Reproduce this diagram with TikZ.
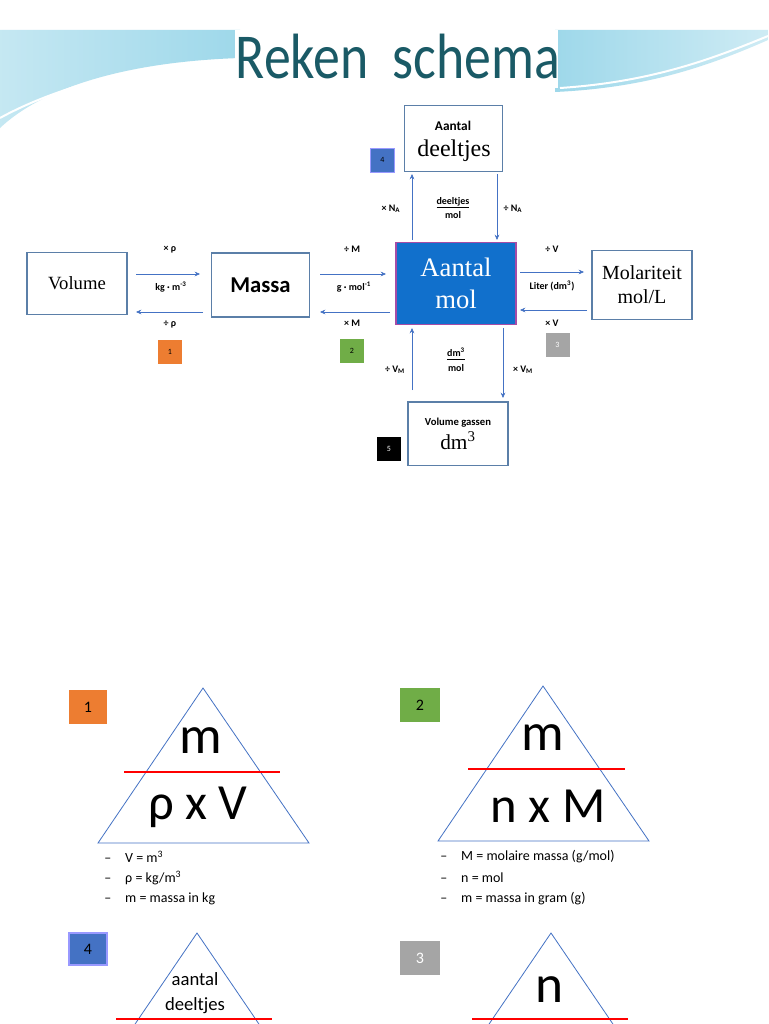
\documentclass[tikz,border=0pt]{standalone}
\usepackage{fontspec}
\setmainfont{Liberation Serif}
\newfontfamily\carl{Carlito}
\usetikzlibrary{arrows.meta}
\definecolor{arrblue}{HTML}{4472C4}
\definecolor{molblue}{HTML}{1170CC}
\definecolor{teal1}{HTML}{1F6A78}
\definecolor{bOrange}{HTML}{ED7D31}
\definecolor{bGreen}{HTML}{70AD47}
\definecolor{bGray}{HTML}{A5A5A5}
\definecolor{bBlue}{HTML}{4472C4}
\definecolor{boxline}{HTML}{5B7FA8}
\definecolor{swoosh}{HTML}{9ED8EA}
\tikzset{
  box/.style={draw=boxline,line width=0.8pt,fill=white,inner sep=0pt,align=center},
  arr/.style={draw=arrblue,line width=0.5pt,-{Stealth[length=4pt,width=3.5pt]}},
  lab/.style={font=\carl\bfseries\fontsize{7.5}{9}\selectfont,inner sep=0pt,align=center},
  badge/.style={inner sep=0pt,font=\carl\fontsize{6}{7}\selectfont},
  bigbadge/.style={inner sep=0pt,font=\carl\fontsize{12}{14}\selectfont},
  tri/.style={draw=arrblue,line width=0.6pt},
  redl/.style={draw=red,line width=2.2pt},
  lst/.style={font=\carl\fontsize{10.5}{13}\selectfont,anchor=west,inner sep=0pt},
}
\begin{document}
\begin{tikzpicture}[x=0.75pt,y=-0.75pt]
\useasboundingbox (0,0) rectangle (768,1024);
\fill[white] (0,0) rectangle (768,1024);
% banner
\shade[left color=swoosh!60,right color=swoosh] (0,30) -- (240,30) -- (240,58) .. controls (120,62) and (40,90) .. (0,128) -- cycle;
\draw[white,line width=1.5pt] (0,118) .. controls (60,85) and (150,62) .. (240,60);
\shade[left color=swoosh,right color=swoosh!50] (555,30) -- (768,30) -- (768,40) .. controls (700,70) and (640,88) .. (555,92) -- cycle;
\draw[white,line width=1.5pt] (560,88) .. controls (650,82) and (710,60) .. (768,36);
\fill[white] (235,30) rectangle (558,88);
\node[inner sep=0pt,text=teal1!85!black,font=\carl\fontsize{48}{50}\selectfont] (title) at (398,57) {\scalebox{0.84}[1]{Reken\ \ schema}};
% boxes
\node[box,minimum width=74pt,minimum height=50pt] (deel) at (453.5,138.5) {};
\node[inner sep=0pt,font=\carl\bfseries\fontsize{10}{12}\selectfont] (deelA) at (453,126) {Aantal};
\node[inner sep=0pt,font=\fontsize{18}{20}\selectfont] (deelB) at (454,151) {deeltjes};
\node[box,draw=violet!70,fill=molblue,minimum width=90pt,minimum height=62pt,text=white,font=\fontsize{20}{24}\selectfont] (mol) at (456,283.5) {Aantal\\mol};
\node[box,minimum width=75pt,minimum height=47pt,font=\fontsize{14}{16}\selectfont] (vol) at (77,283.5) {Volume};
\node[box,minimum width=74pt,minimum height=48pt,font=\carl\bfseries\fontsize{17}{20}\selectfont] (mas) at (260.5,285) {Massa};
\node[box,minimum width=75pt,minimum height=52pt,font=\fontsize{15}{18}\selectfont] (mlr) at (642,285) {Molariteit\\mol/L};
\node[box,minimum width=75pt,minimum height=48pt,align=center] (gas) at (458,434) {{\carl\bfseries\fontsize{8}{10}\selectfont Volume gassen}\\[2pt]{\fontsize{16}{18}\selectfont dm\textsuperscript{3}}};
\fill[white] (405,466) rectangle (512,470);
% badges
\node[badge,fill=bBlue,draw=blue!40,minimum size=18pt] (b4) at (382.5,160) {4};
\node[badge,fill=bOrange,minimum size=18pt] (b1) at (170,352) {1};
\node[badge,fill=bGreen,minimum size=18pt] (b2) at (352,351) {2};
\node[badge,fill=bGray,text=white,minimum size=18pt] (b3) at (557.5,345) {3};
\node[badge,fill=black,text=white,minimum size=18pt] (b5) at (389,449) {5};
% arrows vertical top
\coordinate (t1) at (412,240); \coordinate (t2) at (412,174);
\coordinate (t3) at (497,174); \coordinate (t4) at (497,240);
\draw[arr] (t1) -- (t2); \draw[arr] (t3) -- (t4);
\node[lab] (l1) at (391,209) {× N\textsubscript{A}};
\node[lab] (l2) at (513,209) {÷ N\textsubscript{A}};
\node[lab] (l3) at (453,208) {\underline{deeltjes}\\[2pt]mol};
% horizontal
\coordinate (h1) at (136,274); \coordinate (h2) at (200,274);
\coordinate (h3) at (203,312); \coordinate (h4) at (136,312);
\draw[arr] (h1) -- (h2); \draw[arr] (h3) -- (h4);
\node[lab] (l4) at (170,250) {× ρ};
\node[lab] (l5) at (171,287) {kg · m\textsuperscript{-3}};
\node[lab] (l6) at (170,324) {÷ ρ};
\coordinate (h5) at (320,274); \coordinate (h6) at (386,274);
\coordinate (h7) at (390,312); \coordinate (h8) at (320,312);
\draw[arr] (h5) -- (h6); \draw[arr] (h7) -- (h8);
\node[lab] (l7) at (352,249) {÷ M};
\node[lab] (l8) at (354,287) {g · mol\textsuperscript{-1}};
\node[lab] (l9) at (352,323) {× M};
\coordinate (h9) at (520,272); \coordinate (h10) at (584,272);
\coordinate (h11) at (587,310); \coordinate (h12) at (520,310);
\draw[arr] (h9) -- (h10); \draw[arr] (h11) -- (h12);
\node[lab] (l10) at (552,249) {÷ V};
\node[lab] (l11) at (552,286) {Liter (dm\textsuperscript{3})};
\node[lab] (l12) at (552,323) {× V};
% vertical bottom
\coordinate (v1) at (412,390); \coordinate (v2) at (412,328);
\coordinate (v3) at (503,328); \coordinate (v4) at (503,398);
\draw[arr] (v1) -- (v2); \draw[arr] (v3) -- (v4);
\node[lab] (l13) at (395,370) {÷ V\textsubscript{M}};
\node[lab] (l14) at (456,360) {\underline{dm\textsuperscript{3}}\\[2pt]mol};
\node[lab] (l15) at (523,370) {× V\textsubscript{M}};
% bottom triangles
\node[bigbadge,fill=bOrange,minimum width=29pt,minimum height=25pt] (B1) at (88,707) {1};
\node[bigbadge,fill=bGreen,minimum width=30pt,minimum height=25pt] (B2) at (420,705) {2};
\node[bigbadge,fill=bBlue,draw=blue!40,line width=1.5pt,minimum width=28pt,minimum height=24pt] (B4) at (88,949) {4};
\node[bigbadge,fill=bGray,text=white,minimum width=30pt,minimum height=25pt] (B3) at (420,958) {3};
\draw[tri] (203,688) -- (98,843) -- (309,843) -- cycle;
\draw[redl] (124,772) -- (280,772);
\node[inner sep=0pt,font=\carl\fontsize{40}{44}\selectfont] (m1) at (201,741) {m};
\node[inner sep=0pt,font=\carl\fontsize{38}{40}\selectfont] (f1) at (198,807) {ρ x V};
\draw[tri] (543,686) -- (438,841) -- (649,841) -- cycle;
\draw[redl] (468,769) -- (625,769);
\node[inner sep=0pt,font=\carl\fontsize{40}{44}\selectfont] (m2) at (543,738) {m};
\node[inner sep=0pt,font=\carl\fontsize{38}{40}\selectfont] (f2) at (548,806) {n x M};
\node[lst] (a1) at (104,857) {–\quad V = m\textsuperscript{3}};
\node[lst] (a2) at (104,878) {–\quad ρ = kg/m\textsuperscript{3}};
\node[lst] (a3) at (104,899) {–\quad m = massa in kg};
\node[lst] (c1) at (440,857) {–\quad M = molaire massa (g/mol)};
\node[lst] (c2) at (440,878) {–\quad n = mol};
\node[lst] (c3) at (440,899) {–\quad m = massa in gram (g)};
\draw[tri] (131,1030) -- (197,933) -- (263,1030);
\draw[redl] (116,1019) -- (272,1019);
\node[inner sep=0pt,font=\carl\fontsize{14}{19}\selectfont,align=center] (d4) at (195,993) {aantal\\deeltjes};
\draw[tri] (485,1030) -- (551,933) -- (617,1030);
\draw[redl] (472,1019) -- (628,1019);
\node[inner sep=0pt,font=\carl\fontsize{40}{42}\selectfont] (n3) at (550,990) {n};
\end{tikzpicture}
\end{document}
